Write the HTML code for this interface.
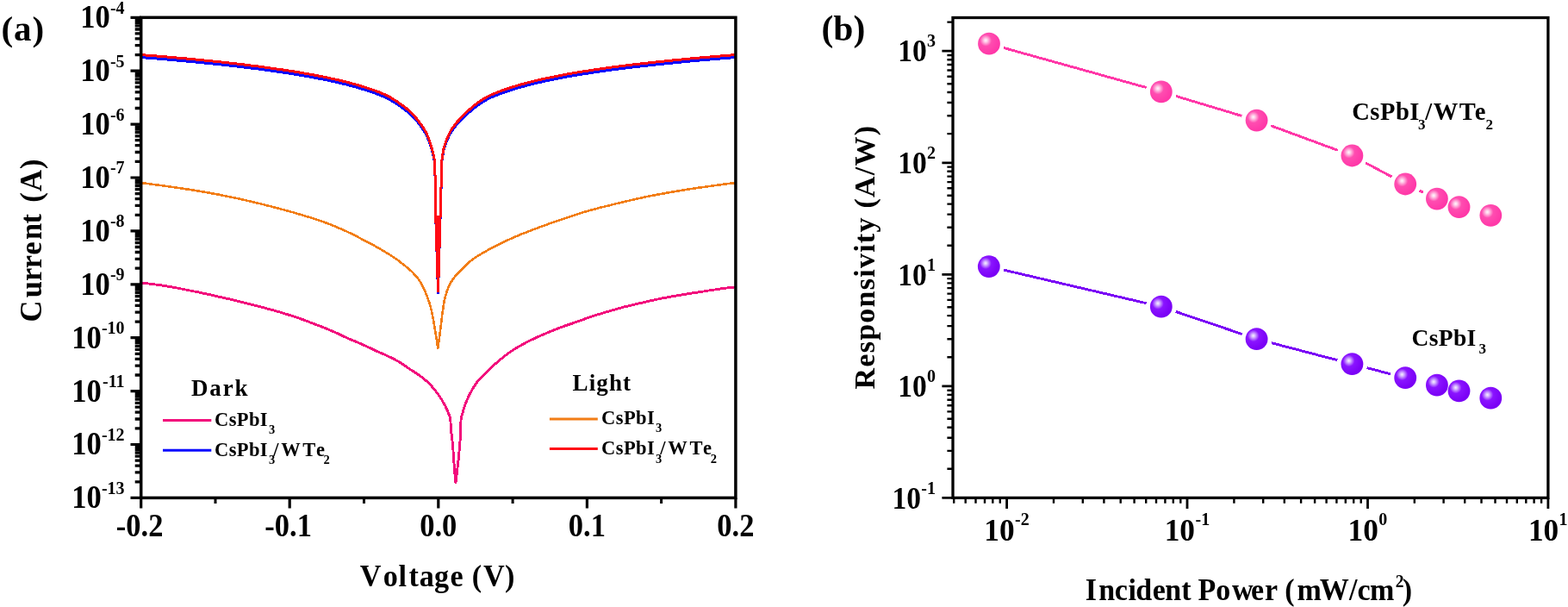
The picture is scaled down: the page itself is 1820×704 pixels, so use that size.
<!DOCTYPE html>
<html lang="en"><head><meta charset="utf-8"><title>Figure</title>
<style>html,body{margin:0;padding:0;background:#fff;}svg{display:block;}</style></head>
<body>
<svg width="1820" height="704" viewBox="0 0 1820 704" font-family='"Liberation Serif", "DejaVu Serif", serif' font-weight="bold" fill="#000">
<defs>
<radialGradient id="gp" cx="0.36" cy="0.36" r="0.62" fx="0.35" fy="0.35"><stop offset="0" stop-color="#fff6fb"/><stop offset="0.12" stop-color="#ffd0ea"/><stop offset="0.42" stop-color="#ff4db0"/><stop offset="1" stop-color="#ff38a8"/></radialGradient>
<radialGradient id="gv" cx="0.36" cy="0.36" r="0.62" fx="0.35" fy="0.35"><stop offset="0" stop-color="#f6eeff"/><stop offset="0.12" stop-color="#d9bcff"/><stop offset="0.42" stop-color="#8a14ff"/><stop offset="1" stop-color="#7a00f5"/></radialGradient>
</defs>
<rect width="1820" height="704" fill="#fff"/>
<clipPath id="ca"><rect x="163.7" y="20.3" width="690.2" height="557.1"/></clipPath>
<g clip-path="url(#ca)" fill="none" stroke-linejoin="round" stroke-linecap="butt" shape-rendering="crispEdges">
<path d="M163.7,328.0 L166.7,328.3 L169.7,328.7 L172.8,329.0 L175.8,329.4 L178.8,329.8 L181.8,330.2 L184.8,330.6 L187.8,331.0 L190.9,331.5 L193.9,332.0 L196.9,332.4 L199.9,333.0 L202.9,333.5 L205.9,334.1 L209.0,334.7 L212.0,335.3 L215.0,335.9 L218.0,336.5 L221.0,337.1 L224.0,337.7 L227.1,338.3 L230.1,338.9 L233.1,339.5 L236.1,340.2 L239.1,340.8 L242.1,341.5 L245.2,342.1 L248.2,342.8 L251.2,343.5 L254.2,344.2 L257.2,344.9 L260.2,345.6 L263.3,346.3 L266.3,346.9 L269.3,347.6 L272.3,348.4 L275.3,349.1 L278.3,349.8 L281.4,350.6 L284.4,351.4 L287.4,352.1 L290.4,352.9 L293.4,353.7 L296.4,354.4 L299.5,355.2 L302.5,355.9 L305.5,356.7 L308.5,357.5 L311.5,358.3 L314.5,359.1 L317.6,359.9 L320.6,360.8 L323.6,361.7 L326.6,362.6 L329.6,363.5 L332.6,364.4 L335.7,365.4 L338.7,366.3 L341.7,367.3 L344.7,368.3 L347.7,369.4 L350.7,370.4 L353.8,371.5 L356.8,372.6 L359.8,373.8 L362.8,374.9 L365.8,376.1 L368.8,377.3 L371.9,378.4 L374.9,379.6 L377.9,380.8 L380.9,382.1 L383.9,383.3 L386.9,384.6 L390.0,385.9 L393.0,387.3 L396.0,388.7 L399.0,390.2 L402.0,391.6 L405.0,392.9 L408.1,394.2 L411.1,395.4 L414.1,396.7 L417.1,398.0 L420.1,399.3 L423.1,400.7 L426.2,402.1 L429.2,403.5 L432.2,404.9 L435.2,406.3 L438.2,407.7 L441.2,409.1 L444.3,410.4 L447.3,411.7 L450.3,413.1 L453.3,414.5 L456.3,415.9 L459.3,417.5 L462.4,419.2 L465.4,421.1 L468.4,423.1 L471.4,425.1 L474.4,427.2 L477.4,429.2 L480.5,431.2 L483.5,433.1 L486.5,435.1 L489.5,437.3 L492.5,439.7 L495.5,442.4 L498.6,445.4 L501.6,448.6 L504.6,452.2 L507.6,456.0 L510.6,460.2 L513.6,465.1 L516.7,470.6 L519.7,477.1 L522.7,484.8 L523.6,499.5 L525.5,515.5 L526.6,531.4 L527.7,547.3 L528.9,559.8 L530.5,547.3 L532.3,531.4 L534.1,510.9 L534.5,497.3 L535.2,484.8 L537.9,475.6 L540.6,467.6 L543.2,461.3 L545.9,455.9 L548.6,451.1 L551.3,446.8 L554.0,442.9 L556.6,439.7 L559.3,436.9 L562.0,434.3 L564.7,431.8 L567.4,429.3 L570.0,426.7 L572.7,424.1 L575.4,421.6 L578.1,419.2 L580.8,417.0 L583.5,414.8 L586.1,412.7 L588.8,410.7 L591.5,408.7 L594.2,406.9 L596.9,405.1 L599.5,403.5 L602.2,401.9 L604.9,400.4 L607.6,398.9 L610.3,397.5 L612.9,396.1 L615.6,394.8 L618.3,393.5 L621.0,392.2 L623.7,391.0 L626.3,389.8 L629.0,388.6 L631.7,387.5 L634.4,386.4 L637.1,385.2 L639.7,384.1 L642.4,383.0 L645.1,382.0 L647.8,380.9 L650.5,379.9 L653.1,378.9 L655.8,377.9 L658.5,377.0 L661.2,376.1 L663.9,375.2 L666.6,374.3 L669.2,373.3 L671.9,372.4 L674.6,371.4 L677.3,370.5 L680.0,369.5 L682.6,368.5 L685.3,367.6 L688.0,366.7 L690.7,365.8 L693.4,365.0 L696.0,364.2 L698.7,363.4 L701.4,362.6 L704.1,361.8 L706.8,361.1 L709.4,360.3 L712.1,359.5 L714.8,358.7 L717.5,358.0 L720.2,357.2 L722.8,356.5 L725.5,355.7 L728.2,355.1 L730.9,354.4 L733.6,353.8 L736.3,353.1 L738.9,352.5 L741.6,351.9 L744.3,351.3 L747.0,350.7 L749.7,350.0 L752.3,349.4 L755.0,348.8 L757.7,348.2 L760.4,347.7 L763.1,347.1 L765.7,346.6 L768.4,346.0 L771.1,345.5 L773.8,345.0 L776.5,344.5 L779.1,344.0 L781.8,343.5 L784.5,343.1 L787.2,342.6 L789.9,342.2 L792.5,341.7 L795.2,341.3 L797.9,340.8 L800.6,340.4 L803.3,340.0 L805.9,339.6 L808.6,339.2 L811.3,338.8 L814.0,338.4 L816.7,338.0 L819.4,337.6 L822.0,337.1 L824.7,336.7 L827.4,336.3 L830.1,335.9 L832.8,335.5 L835.4,335.1 L838.1,334.7 L840.8,334.4 L843.5,334.0 L846.2,333.7 L848.8,333.4 L851.5,333.1 L854.2,332.8" stroke="#f20c7c" stroke-width="2.9"/>
<path d="M163.6,212.1 L166.1,212.4 L168.6,212.7 L171.0,213.0 L173.5,213.3 L176.0,213.6 L178.5,214.0 L181.0,214.3 L183.4,214.6 L185.9,214.9 L188.4,215.3 L190.9,215.6 L193.4,216.0 L195.8,216.3 L198.3,216.7 L200.8,217.0 L203.3,217.4 L205.8,217.8 L208.2,218.1 L210.7,218.5 L213.2,218.9 L215.7,219.3 L218.2,219.6 L220.6,220.0 L223.1,220.4 L225.6,220.8 L228.1,221.2 L230.6,221.6 L233.0,222.0 L235.5,222.5 L238.0,222.9 L240.5,223.3 L243.0,223.7 L245.4,224.2 L247.9,224.6 L250.4,225.1 L252.9,225.5 L255.4,226.0 L257.8,226.5 L260.3,227.0 L262.8,227.5 L265.3,228.0 L267.8,228.5 L270.2,229.0 L272.7,229.5 L275.2,230.1 L277.7,230.6 L280.2,231.2 L282.6,231.7 L285.1,232.3 L287.6,232.9 L290.1,233.4 L292.6,234.0 L295.0,234.6 L297.5,235.2 L300.0,235.8 L302.5,236.4 L305.0,237.0 L307.4,237.7 L309.9,238.3 L312.4,238.9 L314.9,239.5 L317.4,240.2 L319.8,240.8 L322.3,241.5 L324.8,242.1 L327.3,242.8 L329.8,243.5 L332.2,244.1 L334.7,244.8 L337.2,245.5 L339.7,246.2 L342.1,246.9 L344.6,247.6 L347.1,248.4 L349.6,249.1 L352.1,249.8 L354.5,250.6 L357.0,251.3 L359.5,252.1 L362.0,252.8 L364.5,253.6 L366.9,254.4 L369.4,255.2 L371.9,256.1 L374.4,257.0 L376.9,257.9 L379.3,258.8 L381.8,259.7 L384.3,260.7 L386.8,261.7 L389.3,262.7 L391.7,263.8 L394.2,264.8 L396.7,265.9 L399.2,267.0 L401.7,268.1 L404.1,269.3 L406.6,270.5 L409.1,271.7 L411.6,273.0 L414.1,274.2 L416.5,275.5 L419.0,276.8 L421.5,278.1 L424.0,279.4 L426.5,280.7 L428.9,282.0 L431.4,283.3 L433.9,284.6 L436.4,286.0 L438.9,287.4 L441.3,288.8 L443.8,290.2 L446.3,291.7 L448.8,293.3 L451.3,294.8 L453.7,296.4 L456.2,298.0 L458.7,299.7 L461.2,301.4 L463.7,303.2 L466.1,305.1 L468.6,307.0 L471.1,309.1 L473.6,311.1 L476.1,313.3 L478.5,315.6 L481.0,318.2 L483.5,321.0 L486.0,324.2 L488.5,328.1 L490.9,332.7 L493.4,337.9 L495.9,343.9 L498.4,351.2 L500.9,360.2 L503.3,372.6 L505.8,387.4 L508.3,404.0 L510.8,385.3 L513.3,364.6 L515.8,347.8 L518.3,339.0 L520.7,332.6 L523.2,327.8 L525.7,323.9 L528.2,320.6 L530.7,317.8 L533.2,315.2 L535.7,312.6 L538.2,310.1 L540.7,307.7 L543.1,305.4 L545.6,303.2 L548.1,301.3 L550.6,299.4 L553.1,297.7 L555.6,296.2 L558.1,294.7 L560.6,293.3 L563.0,291.9 L565.5,290.5 L568.0,289.2 L570.5,287.9 L573.0,286.5 L575.5,285.2 L578.0,284.0 L580.5,282.7 L583.0,281.5 L585.4,280.3 L587.9,279.1 L590.4,278.0 L592.9,276.9 L595.4,275.7 L597.9,274.7 L600.4,273.6 L602.9,272.6 L605.4,271.5 L607.8,270.5 L610.3,269.6 L612.8,268.6 L615.3,267.6 L617.8,266.7 L620.3,265.7 L622.8,264.8 L625.3,263.9 L627.7,263.0 L630.2,262.0 L632.7,261.2 L635.2,260.3 L637.7,259.4 L640.2,258.5 L642.7,257.6 L645.2,256.8 L647.7,255.9 L650.1,255.1 L652.6,254.3 L655.1,253.4 L657.6,252.6 L660.1,251.8 L662.6,250.9 L665.1,250.1 L667.6,249.3 L670.1,248.5 L672.5,247.7 L675.0,246.9 L677.5,246.1 L680.0,245.4 L682.5,244.7 L685.0,243.9 L687.5,243.3 L690.0,242.6 L692.4,241.9 L694.9,241.3 L697.4,240.6 L699.9,240.0 L702.4,239.4 L704.9,238.8 L707.4,238.2 L709.9,237.5 L712.4,236.9 L714.8,236.3 L717.3,235.7 L719.8,235.1 L722.3,234.5 L724.8,233.9 L727.3,233.3 L729.8,232.8 L732.3,232.2 L734.8,231.6 L737.2,231.0 L739.7,230.5 L742.2,229.9 L744.7,229.4 L747.2,228.9 L749.7,228.3 L752.2,227.8 L754.7,227.3 L757.1,226.8 L759.6,226.4 L762.1,225.9 L764.6,225.4 L767.1,225.0 L769.6,224.5 L772.1,224.1 L774.6,223.6 L777.1,223.2 L779.5,222.8 L782.0,222.3 L784.5,221.9 L787.0,221.5 L789.5,221.1 L792.0,220.7 L794.5,220.3 L797.0,219.9 L799.5,219.5 L801.9,219.1 L804.4,218.8 L806.9,218.4 L809.4,218.0 L811.9,217.6 L814.4,217.3 L816.9,216.9 L819.4,216.6 L821.8,216.2 L824.3,215.9 L826.8,215.5 L829.3,215.2 L831.8,214.8 L834.3,214.5 L836.8,214.2 L839.3,213.8 L841.8,213.5 L844.2,213.2 L846.7,212.9 L849.2,212.6 L851.7,212.3 L854.2,212.0" stroke="#f27d16" stroke-width="2.6"/>
<path d="M163.7,66.6 L170.5,67.1 L177.2,67.6 L183.7,68.2 L190.1,68.7 L196.4,69.2 L202.6,69.8 L208.6,70.3 L214.5,70.8 L220.3,71.4 L226.0,71.9 L231.6,72.5 L237.0,73.0 L242.4,73.5 L247.6,74.1 L252.8,74.6 L257.8,75.1 L262.8,75.7 L267.6,76.2 L272.4,76.7 L277.1,77.3 L281.6,77.8 L286.1,78.3 L290.5,78.9 L294.8,79.4 L299.0,79.9 L303.1,80.5 L307.2,81.0 L311.2,81.6 L315.1,82.1 L318.9,82.6 L322.6,83.2 L326.3,83.7 L329.9,84.2 L333.4,84.8 L336.9,85.3 L340.3,85.8 L343.6,86.4 L346.9,86.9 L350.0,87.4 L353.2,88.0 L356.2,88.5 L359.3,89.0 L362.2,89.6 L365.1,90.1 L367.9,90.7 L370.7,91.2 L373.4,91.7 L376.1,92.3 L378.7,92.8 L381.3,93.3 L383.8,93.9 L386.2,94.4 L388.7,94.9 L391.0,95.5 L393.4,96.0 L395.6,96.5 L397.9,97.1 L400.0,97.6 L402.2,98.1 L404.3,98.7 L406.4,99.2 L408.4,99.8 L410.4,100.3 L412.3,100.8 L414.2,101.4 L416.1,101.9 L417.9,102.4 L419.7,103.0 L421.4,103.5 L423.2,104.0 L424.8,104.6 L426.5,105.1 L428.1,105.6 L429.7,106.2 L431.3,106.7 L432.8,107.2 L434.3,107.8 L435.8,108.3 L437.2,108.8 L438.6,109.4 L440.0,109.9 L441.4,110.5 L442.7,111.0 L444.0,111.5 L445.3,112.1 L446.5,112.6 L447.7,113.1 L449.0,113.7 L450.1,114.2 L452.3,115.5 L454.5,116.8 L456.6,118.1 L458.6,119.4 L460.6,120.7 L462.5,122.0 L464.4,123.2 L466.2,124.5 L468.0,125.8 L469.7,127.0 L471.3,128.3 L472.8,129.5 L474.3,130.8 L475.7,132.1 L477.0,133.3 L478.3,134.6 L479.6,135.8 L480.8,137.1 L482.0,138.4 L483.1,139.6 L484.2,140.9 L485.2,142.1 L486.1,143.4 L487.1,144.7 L488.0,145.9 L488.9,147.2 L489.8,148.4 L490.7,149.7 L491.6,151.0 L492.4,152.2 L493.2,153.5 L493.9,154.7 L494.6,156.0 L495.2,157.3 L495.8,158.5 L496.3,159.8 L496.9,161.0 L497.4,162.3 L497.9,163.6 L498.3,164.8 L498.8,166.1 L499.2,167.3 L499.7,168.6 L500.1,169.9 L500.5,171.1 L500.8,172.4 L501.2,173.6 L501.6,174.9 L501.9,176.2 L502.3,177.4 L502.6,178.7 L502.9,179.9 L503.1,181.2 L503.4,182.5 L503.6,183.7 L503.9,185.0 L504.1,186.2 L504.2,187.5 L504.4,188.8 L505.5,216.2 L505.7,250.6 L508.5,339.8 L511.9,223.6 L512.7,188.8 L512.8,187.5 L513.0,186.2 L513.2,185.0 L513.4,183.7 L513.5,182.5 L513.7,181.2 L513.9,179.9 L514.2,178.7 L514.4,177.4 L514.6,176.2 L514.9,174.9 L515.1,173.6 L515.5,172.4 L515.8,171.1 L516.2,169.9 L516.7,168.6 L517.1,167.3 L517.6,166.1 L518.1,164.8 L518.6,163.6 L519.2,162.3 L519.7,161.0 L520.2,159.8 L520.8,158.5 L521.4,157.3 L522.0,156.0 L522.7,154.7 L523.4,153.5 L524.2,152.2 L525.1,151.0 L526.0,149.7 L527.0,148.4 L528.0,147.2 L529.0,145.9 L530.0,144.7 L531.1,143.4 L532.3,142.1 L533.4,140.9 L534.6,139.6 L535.9,138.4 L537.1,137.1 L538.4,135.8 L539.7,134.6 L541.1,133.3 L542.5,132.1 L543.9,130.8 L545.4,129.5 L546.9,128.3 L548.4,127.0 L550.0,125.8 L551.6,124.5 L553.3,123.2 L555.0,122.0 L556.8,120.7 L558.7,119.4 L560.7,118.1 L562.9,116.8 L565.1,115.5 L567.5,114.2 L568.6,113.7 L569.9,113.1 L571.1,112.6 L572.3,112.1 L573.6,111.5 L574.9,111.0 L576.2,110.5 L577.6,109.9 L579.0,109.4 L580.4,108.8 L581.8,108.3 L583.3,107.8 L584.8,107.2 L586.3,106.7 L587.9,106.2 L589.5,105.6 L591.1,105.1 L592.8,104.6 L594.4,104.0 L596.2,103.5 L597.9,103.0 L599.7,102.4 L601.5,101.9 L603.4,101.4 L605.3,100.8 L607.2,100.3 L609.2,99.8 L611.2,99.2 L613.3,98.7 L615.4,98.1 L617.6,97.6 L619.7,97.1 L622.0,96.5 L624.2,96.0 L626.6,95.5 L628.9,94.9 L631.4,94.4 L633.8,93.9 L636.3,93.3 L638.9,92.8 L641.5,92.3 L644.2,91.7 L646.9,91.2 L649.7,90.7 L652.5,90.1 L655.4,89.6 L658.3,89.0 L661.4,88.5 L664.4,88.0 L667.6,87.4 L670.7,86.9 L674.0,86.4 L677.3,85.8 L680.7,85.3 L684.2,84.8 L687.7,84.2 L691.3,83.7 L695.0,83.2 L698.7,82.6 L702.5,82.1 L706.4,81.6 L710.4,81.0 L714.5,80.5 L718.6,79.9 L722.8,79.4 L727.1,78.9 L731.5,78.3 L736.0,77.8 L740.5,77.3 L745.2,76.7 L750.0,76.2 L754.8,75.7 L759.8,75.1 L764.8,74.6 L770.0,74.1 L775.2,73.5 L780.6,73.0 L786.0,72.5 L791.6,71.9 L797.3,71.4 L803.1,70.8 L809.0,70.3 L815.0,69.8 L821.2,69.2 L827.5,68.7 L833.9,68.2 L840.4,67.6 L847.1,67.1 L853.9,66.6" stroke="#0a0aff" stroke-width="3.0"/>
<path d="M163.7,63.6 L170.5,64.1 L177.2,64.6 L183.7,65.2 L190.1,65.7 L196.4,66.2 L202.6,66.8 L208.6,67.3 L214.5,67.8 L220.3,68.4 L226.0,68.9 L231.6,69.5 L237.0,70.0 L242.4,70.5 L247.6,71.1 L252.8,71.6 L257.8,72.1 L262.8,72.7 L267.6,73.2 L272.4,73.7 L277.1,74.3 L281.6,74.8 L286.1,75.3 L290.5,75.9 L294.8,76.4 L299.0,76.9 L303.1,77.5 L307.2,78.0 L311.2,78.6 L315.1,79.1 L318.9,79.6 L322.6,80.2 L326.3,80.7 L329.9,81.2 L333.4,81.8 L336.9,82.3 L340.3,82.8 L343.6,83.4 L346.9,83.9 L350.0,84.4 L353.2,85.0 L356.2,85.5 L359.3,86.0 L362.2,86.6 L365.1,87.1 L367.9,87.7 L370.7,88.2 L373.4,88.7 L376.1,89.3 L378.7,89.8 L381.3,90.3 L383.8,90.9 L386.2,91.4 L388.7,91.9 L391.0,92.5 L393.4,93.0 L395.6,93.5 L397.9,94.1 L400.0,94.6 L402.2,95.1 L404.3,95.7 L406.4,96.2 L408.4,96.8 L410.4,97.3 L412.3,97.8 L414.2,98.4 L416.1,98.9 L417.9,99.4 L419.7,100.0 L421.4,100.5 L423.2,101.0 L424.8,101.6 L426.5,102.1 L428.1,102.6 L429.7,103.2 L431.3,103.7 L432.8,104.2 L434.3,104.8 L435.8,105.3 L437.2,105.8 L438.6,106.4 L440.0,106.9 L441.4,107.5 L442.7,108.0 L444.0,108.5 L445.3,109.1 L446.5,109.6 L447.7,110.1 L449.0,110.7 L450.1,111.2 L452.3,112.5 L454.5,113.8 L456.6,115.1 L458.6,116.4 L460.6,117.7 L462.5,119.0 L464.4,120.3 L466.2,121.5 L468.0,122.8 L469.7,124.1 L471.3,125.4 L472.8,126.7 L474.3,128.0 L475.7,129.3 L477.0,130.6 L478.3,131.9 L479.6,133.2 L480.8,134.5 L482.0,135.8 L483.1,137.1 L484.2,138.4 L485.2,139.7 L486.1,140.9 L487.1,142.2 L488.0,143.5 L488.9,144.8 L489.8,146.1 L490.7,147.4 L491.6,148.7 L492.4,150.0 L493.2,151.3 L493.9,152.6 L494.6,153.9 L495.2,155.2 L495.8,156.5 L496.3,157.8 L496.9,159.0 L497.4,160.3 L497.9,161.6 L498.3,162.9 L498.8,164.2 L499.2,165.5 L499.7,166.8 L500.1,168.1 L500.5,169.4 L500.8,170.7 L501.2,172.0 L501.6,173.3 L501.9,174.6 L502.3,175.9 L502.6,177.2 L502.9,178.4 L503.1,179.7 L503.4,181.0 L503.6,182.3 L503.9,183.6 L504.1,184.9 L504.2,186.2 L504.4,187.5 L505.5,215.0 L505.7,249.4 L508.5,338.0 L511.9,222.4 L512.7,187.5 L512.8,186.2 L513.0,184.9 L513.2,183.6 L513.4,182.3 L513.5,181.0 L513.7,179.7 L513.9,178.4 L514.2,177.2 L514.4,175.9 L514.6,174.6 L514.9,173.3 L515.1,172.0 L515.5,170.7 L515.8,169.4 L516.2,168.1 L516.7,166.8 L517.1,165.5 L517.6,164.2 L518.1,162.9 L518.6,161.6 L519.2,160.3 L519.7,159.0 L520.2,157.8 L520.8,156.5 L521.4,155.2 L522.0,153.9 L522.7,152.6 L523.4,151.3 L524.2,150.0 L525.1,148.7 L526.0,147.4 L527.0,146.1 L528.0,144.8 L529.0,143.5 L530.0,142.2 L531.1,140.9 L532.3,139.7 L533.4,138.4 L534.6,137.1 L535.9,135.8 L537.1,134.5 L538.4,133.2 L539.7,131.9 L541.1,130.6 L542.5,129.3 L543.9,128.0 L545.4,126.7 L546.9,125.4 L548.4,124.1 L550.0,122.8 L551.6,121.5 L553.3,120.3 L555.0,119.0 L556.8,117.7 L558.7,116.4 L560.7,115.1 L562.9,113.8 L565.1,112.5 L567.5,111.2 L568.6,110.7 L569.9,110.1 L571.1,109.6 L572.3,109.1 L573.6,108.5 L574.9,108.0 L576.2,107.5 L577.6,106.9 L579.0,106.4 L580.4,105.8 L581.8,105.3 L583.3,104.8 L584.8,104.2 L586.3,103.7 L587.9,103.2 L589.5,102.6 L591.1,102.1 L592.8,101.6 L594.4,101.0 L596.2,100.5 L597.9,100.0 L599.7,99.4 L601.5,98.9 L603.4,98.4 L605.3,97.8 L607.2,97.3 L609.2,96.8 L611.2,96.2 L613.3,95.7 L615.4,95.1 L617.6,94.6 L619.7,94.1 L622.0,93.5 L624.2,93.0 L626.6,92.5 L628.9,91.9 L631.4,91.4 L633.8,90.9 L636.3,90.3 L638.9,89.8 L641.5,89.3 L644.2,88.7 L646.9,88.2 L649.7,87.7 L652.5,87.1 L655.4,86.6 L658.3,86.0 L661.4,85.5 L664.4,85.0 L667.6,84.4 L670.7,83.9 L674.0,83.4 L677.3,82.8 L680.7,82.3 L684.2,81.8 L687.7,81.2 L691.3,80.7 L695.0,80.2 L698.7,79.6 L702.5,79.1 L706.4,78.6 L710.4,78.0 L714.5,77.5 L718.6,76.9 L722.8,76.4 L727.1,75.9 L731.5,75.3 L736.0,74.8 L740.5,74.3 L745.2,73.7 L750.0,73.2 L754.8,72.7 L759.8,72.1 L764.8,71.6 L770.0,71.1 L775.2,70.5 L780.6,70.0 L786.0,69.5 L791.6,68.9 L797.3,68.4 L803.1,67.8 L809.0,67.3 L815.0,66.8 L821.2,66.2 L827.5,65.7 L833.9,65.2 L840.4,64.6 L847.1,64.1 L853.9,63.6" stroke="#ff0a14" stroke-width="3.0"/>
<path d="M505.7,249.4 L508.5,338 L511.9,222.4 L510.6,250.5 L507.0,250.5 Z" fill="#ff0a14" stroke="#ff0a14" stroke-width="1"/>
</g>
<rect x="163.7" y="20.3" width="690.2" height="557.1" fill="none" stroke="#000" stroke-width="3.5"/>
<path d="M151.5,20.3H163.7 M151.5,82.2H163.7 M151.5,144.1H163.7 M151.5,206.0H163.7 M151.5,267.9H163.7 M151.5,329.8H163.7 M151.5,391.7H163.7 M151.5,453.6H163.7 M151.5,515.5H163.7 M151.5,577.4H163.7" stroke="#000" stroke-width="3.2" fill="none"/>
<path d="M156.7,63.6H163.7 M156.7,52.7H163.7 M156.7,44.9H163.7 M156.7,38.9H163.7 M156.7,34.0H163.7 M156.7,29.9H163.7 M156.7,26.3H163.7 M156.7,23.1H163.7 M156.7,125.5H163.7 M156.7,114.6H163.7 M156.7,106.8H163.7 M156.7,100.8H163.7 M156.7,95.9H163.7 M156.7,91.8H163.7 M156.7,88.2H163.7 M156.7,85.0H163.7 M156.7,187.4H163.7 M156.7,176.5H163.7 M156.7,168.7H163.7 M156.7,162.7H163.7 M156.7,157.8H163.7 M156.7,153.7H163.7 M156.7,150.1H163.7 M156.7,146.9H163.7 M156.7,249.3H163.7 M156.7,238.4H163.7 M156.7,230.6H163.7 M156.7,224.6H163.7 M156.7,219.7H163.7 M156.7,215.6H163.7 M156.7,212.0H163.7 M156.7,208.8H163.7 M156.7,311.2H163.7 M156.7,300.3H163.7 M156.7,292.5H163.7 M156.7,286.5H163.7 M156.7,281.6H163.7 M156.7,277.5H163.7 M156.7,273.9H163.7 M156.7,270.7H163.7 M156.7,373.1H163.7 M156.7,362.2H163.7 M156.7,354.4H163.7 M156.7,348.4H163.7 M156.7,343.5H163.7 M156.7,339.4H163.7 M156.7,335.8H163.7 M156.7,332.6H163.7 M156.7,435.0H163.7 M156.7,424.1H163.7 M156.7,416.3H163.7 M156.7,410.3H163.7 M156.7,405.4H163.7 M156.7,401.3H163.7 M156.7,397.7H163.7 M156.7,394.5H163.7 M156.7,496.9H163.7 M156.7,486.0H163.7 M156.7,478.2H163.7 M156.7,472.2H163.7 M156.7,467.3H163.7 M156.7,463.2H163.7 M156.7,459.6H163.7 M156.7,456.4H163.7 M156.7,558.8H163.7 M156.7,547.9H163.7 M156.7,540.1H163.7 M156.7,534.1H163.7 M156.7,529.2H163.7 M156.7,525.1H163.7 M156.7,521.5H163.7 M156.7,518.3H163.7" stroke="#000" stroke-width="3.3" fill="none"/>
<path d="M163.7,577.4V589.6 M336.2,577.4V589.6 M508.8,577.4V589.6 M681.4,577.4V589.6 M853.9,577.4V589.6" stroke="#000" stroke-width="3.2" fill="none"/>
<path d="M250.0,577.4V584.0 M422.5,577.4V584.0 M595.1,577.4V584.0 M767.6,577.4V584.0" stroke="#000" stroke-width="3.0" fill="none"/>
<text x="144.6" y="15.7" font-size="20" text-anchor="end">-4</text>
<text transform="translate(127.7,32.2) scale(1,1.09)" font-size="34.5" text-anchor="end">10</text>
<text x="144.6" y="77.6" font-size="20" text-anchor="end">-5</text>
<text transform="translate(127.7,94.1) scale(1,1.09)" font-size="34.5" text-anchor="end">10</text>
<text x="144.6" y="139.5" font-size="20" text-anchor="end">-6</text>
<text transform="translate(127.7,156.0) scale(1,1.09)" font-size="34.5" text-anchor="end">10</text>
<text x="144.6" y="201.4" font-size="20" text-anchor="end">-7</text>
<text transform="translate(127.7,217.9) scale(1,1.09)" font-size="34.5" text-anchor="end">10</text>
<text x="144.6" y="263.3" font-size="20" text-anchor="end">-8</text>
<text transform="translate(127.7,279.8) scale(1,1.09)" font-size="34.5" text-anchor="end">10</text>
<text x="144.6" y="325.2" font-size="20" text-anchor="end">-9</text>
<text transform="translate(127.7,341.7) scale(1,1.09)" font-size="34.5" text-anchor="end">10</text>
<text x="144.6" y="387.1" font-size="20" text-anchor="end">-10</text>
<text transform="translate(117.7,403.6) scale(1,1.09)" font-size="34.5" text-anchor="end">10</text>
<text x="144.6" y="449.0" font-size="20" text-anchor="end">-11</text>
<text transform="translate(117.7,465.5) scale(1,1.09)" font-size="34.5" text-anchor="end">10</text>
<text x="144.6" y="510.9" font-size="20" text-anchor="end">-12</text>
<text transform="translate(117.7,527.4) scale(1,1.09)" font-size="34.5" text-anchor="end">10</text>
<text x="144.6" y="572.8" font-size="20" text-anchor="end">-13</text>
<text transform="translate(117.7,589.3) scale(1,1.09)" font-size="34.5" text-anchor="end">10</text>
<text transform="translate(162.1,622.1) scale(1,1.09)" font-size="34.5" text-anchor="middle">-0.2</text>
<text transform="translate(334.6,622.1) scale(1,1.09)" font-size="34.5" text-anchor="middle">-0.1</text>
<text transform="translate(508.8,622.1) scale(1,1.09)" font-size="34.5" text-anchor="middle">0.0</text>
<text transform="translate(681.4,622.1) scale(1,1.09)" font-size="34.5" text-anchor="middle">0.1</text>
<text transform="translate(853.9,622.1) scale(1,1.09)" font-size="34.5" text-anchor="middle">0.2</text>
<text x="1.6" y="46.9" font-size="41" textLength="49.5" lengthAdjust="spacing">(a)</text>
<text transform="translate(0,679.6) scale(1,1.04)" font-size="34.2"><tspan x="417.7 444.7 462.4 474.6 486.7 503.9 522.4 537.6 547.8 561.1 586.1" y="0">Voltage (V)</tspan></text>
<text transform="translate(47.9,0) rotate(-90) scale(1,1.04)" font-size="34.5"><tspan x="-373.6 -345.2 -326.1 -311.2 -295.8 -277.9 -259.6 -248.1 -234.8 -221.9 -196.1" y="0">Current (A)</tspan></text>
<text x="222.0" y="459.1" font-size="27" textLength="65.5" lengthAdjust="spacing">Dark</text>
<text x="664.6" y="452.9" font-size="27" textLength="67.5" lengthAdjust="spacing">Light</text>
<path d="M189,487.4H245.3" stroke="#f20c7c" stroke-width="3"/>
<path d="M189,522.2H245.3" stroke="#0a0aff" stroke-width="3"/>
<path d="M637.9,485.9H693.8" stroke="#f27d16" stroke-width="3"/>
<path d="M637.9,520.6H693.8" stroke="#ff0a14" stroke-width="3"/>
<text font-size="22.5"><tspan x="249.0" y="493.5" textLength="61.6" lengthAdjust="spacing">CsPbI</tspan><tspan x="312.0" y="502.7" font-size="14.5">3</tspan></text>
<text font-size="22.5"><tspan x="249.0" y="528.9" textLength="61.6" lengthAdjust="spacing">CsPbI</tspan><tspan x="312.0" y="538.1" font-size="14.5">3</tspan><tspan x="317.2" y="528.9" textLength="59.8" lengthAdjust="spacing">/WTe</tspan><tspan x="375.6" y="538.1" font-size="14.5">2</tspan></text>
<text font-size="22.5"><tspan x="698.1" y="492.0" textLength="61.6" lengthAdjust="spacing">CsPbI</tspan><tspan x="761.1" y="501.2" font-size="14.5">3</tspan></text>
<text font-size="22.5"><tspan x="698.1" y="527.4" textLength="61.6" lengthAdjust="spacing">CsPbI</tspan><tspan x="761.1" y="536.6" font-size="14.5">3</tspan><tspan x="766.3" y="527.4" textLength="59.8" lengthAdjust="spacing">/WTe</tspan><tspan x="824.7" y="536.6" font-size="14.5">2</tspan></text>
<path d="M1165.1,55.5L1330.7,101.6 M1364.9,111.5L1441.5,134.5 M1475.3,145.8L1552.7,174.3 M1585.1,188.9L1615.5,205.1 M1647.3,221.0L1651.8,223.1" stroke="#ff38a8" stroke-width="2.9" fill="none" shape-rendering="crispEdges"/>
<path d="M1165.1,313.1L1330.5,351.7 M1364.7,361.4L1441.7,387.5 M1475.8,397.7L1552.2,417.7 M1586.6,426.7L1614.0,433.7" stroke="#7a00f5" stroke-width="2.9" fill="none" shape-rendering="crispEdges"/>
<circle cx="1148.0" cy="50.7" r="12.9" fill="url(#gp)"/>
<circle cx="1347.8" cy="106.4" r="12.9" fill="url(#gp)"/>
<circle cx="1458.6" cy="139.6" r="12.9" fill="url(#gp)"/>
<circle cx="1569.4" cy="180.5" r="12.9" fill="url(#gp)"/>
<circle cx="1631.2" cy="213.5" r="12.9" fill="url(#gp)"/>
<circle cx="1667.9" cy="230.6" r="12.9" fill="url(#gp)"/>
<circle cx="1693.5" cy="240.2" r="12.9" fill="url(#gp)"/>
<circle cx="1730.3" cy="249.8" r="12.9" fill="url(#gp)"/>
<circle cx="1147.8" cy="309.1" r="12.9" fill="url(#gv)"/>
<circle cx="1347.8" cy="355.7" r="12.9" fill="url(#gv)"/>
<circle cx="1458.6" cy="393.2" r="12.9" fill="url(#gv)"/>
<circle cx="1569.4" cy="422.2" r="12.9" fill="url(#gv)"/>
<circle cx="1631.2" cy="438.2" r="12.9" fill="url(#gv)"/>
<circle cx="1667.9" cy="446.7" r="12.9" fill="url(#gv)"/>
<circle cx="1693.5" cy="453.4" r="12.9" fill="url(#gv)"/>
<circle cx="1730.3" cy="461.7" r="12.9" fill="url(#gv)"/>
<rect x="1106.0" y="20.5" width="690.9000000000001" height="556.9" fill="none" stroke="#000" stroke-width="3.3"/>
<path d="M1093.4,577.4H1106.0 M1093.4,447.9H1106.0 M1093.4,318.3H1106.0 M1093.4,188.8H1106.0 M1093.4,59.2H1106.0" stroke="#000" stroke-width="2.8" fill="none"/>
<path d="M1099.4,543.8H1106.0 M1099.4,522.9H1106.0 M1099.4,507.7H1106.0 M1099.4,495.7H1106.0 M1099.4,485.8H1106.0 M1099.4,477.4H1106.0 M1099.4,470.2H1106.0 M1099.4,463.7H1106.0 M1099.4,457.9H1106.0 M1099.4,452.7H1106.0 M1099.4,414.2H1106.0 M1099.4,393.3H1106.0 M1099.4,378.1H1106.0 M1099.4,366.1H1106.0 M1099.4,356.3H1106.0 M1099.4,347.9H1106.0 M1099.4,340.6H1106.0 M1099.4,334.1H1106.0 M1099.4,328.4H1106.0 M1099.4,323.1H1106.0 M1099.4,284.7H1106.0 M1099.4,263.8H1106.0 M1099.4,248.6H1106.0 M1099.4,236.6H1106.0 M1099.4,226.7H1106.0 M1099.4,218.3H1106.0 M1099.4,211.1H1106.0 M1099.4,204.6H1106.0 M1099.4,198.8H1106.0 M1099.4,193.6H1106.0 M1099.4,155.1H1106.0 M1099.4,134.2H1106.0 M1099.4,119.0H1106.0 M1099.4,107.0H1106.0 M1099.4,97.2H1106.0 M1099.4,88.8H1106.0 M1099.4,81.5H1106.0 M1099.4,75.0H1106.0 M1099.4,69.3H1106.0 M1099.4,64.0H1106.0 M1099.4,25.6H1106.0" stroke="#000" stroke-width="2.4" fill="none"/>
<path d="M1168.6,577.4V590.0 M1378.0,577.4V590.0 M1587.5,577.4V590.0 M1796.9,577.4V590.0" stroke="#000" stroke-width="2.8" fill="none"/>
<path d="M1107.2,577.4V583.8 M1120.7,577.4V583.8 M1132.5,577.4V583.8 M1143.0,577.4V583.8 M1152.3,577.4V583.8 M1160.8,577.4V583.8 M1223.0,577.4V583.8 M1256.8,577.4V583.8 M1281.4,577.4V583.8 M1300.7,577.4V583.8 M1316.6,577.4V583.8 M1330.2,577.4V583.8 M1342.0,577.4V583.8 M1352.4,577.4V583.8 M1361.8,577.4V583.8 M1370.3,577.4V583.8 M1432.4,577.4V583.8 M1466.2,577.4V583.8 M1490.8,577.4V583.8 M1510.1,577.4V583.8 M1526.1,577.4V583.8 M1539.6,577.4V583.8 M1551.4,577.4V583.8 M1561.8,577.4V583.8 M1571.2,577.4V583.8 M1579.7,577.4V583.8 M1641.8,577.4V583.8 M1675.6,577.4V583.8 M1700.2,577.4V583.8 M1719.5,577.4V583.8 M1735.5,577.4V583.8 M1749.0,577.4V583.8 M1760.8,577.4V583.8 M1771.3,577.4V583.8 M1780.6,577.4V583.8 M1789.1,577.4V583.8" stroke="#000" stroke-width="2.4" fill="none"/>
<text x="1086.0" y="572.6" font-size="20" text-anchor="end">-1</text>
<text transform="translate(1069.1,589.6) scale(1,1.09)" font-size="33.5" text-anchor="end">10</text>
<text x="1086.0" y="443.1" font-size="20" text-anchor="end">0</text>
<text transform="translate(1075.8,460.1) scale(1,1.09)" font-size="33.5" text-anchor="end">10</text>
<text x="1086.0" y="313.5" font-size="20" text-anchor="end">1</text>
<text transform="translate(1075.8,330.5) scale(1,1.09)" font-size="33.5" text-anchor="end">10</text>
<text x="1086.0" y="183.9" font-size="20" text-anchor="end">2</text>
<text transform="translate(1075.8,200.9) scale(1,1.09)" font-size="33.5" text-anchor="end">10</text>
<text x="1086.0" y="54.4" font-size="20" text-anchor="end">3</text>
<text transform="translate(1075.8,71.4) scale(1,1.09)" font-size="33.5" text-anchor="end">10</text>
<text transform="translate(1177.6,626.7) scale(1,1.04)" font-size="35.3" text-anchor="end">10</text>
<text x="1178.0" y="608.9" font-size="20">-2</text>
<text transform="translate(1387.0,626.7) scale(1,1.04)" font-size="35.3" text-anchor="end">10</text>
<text x="1387.5" y="608.9" font-size="20">-1</text>
<text transform="translate(1599.8,626.7) scale(1,1.04)" font-size="35.3" text-anchor="end">10</text>
<text x="1600.2" y="608.9" font-size="20">0</text>
<text transform="translate(1809.2,626.7) scale(1,1.04)" font-size="35.3" text-anchor="end">10</text>
<text x="1809.6" y="608.9" font-size="20">1</text>
<text x="953.4" y="46.8" font-size="41.5" textLength="51" lengthAdjust="spacing">(b)</text>
<text transform="translate(1014.5,298.7) rotate(-90)" font-size="34" text-anchor="middle" textLength="305.5" lengthAdjust="spacing">Responsivity (A/W)</text>
<text transform="translate(0,695.6) scale(1,1.07)" font-size="34"><tspan x="1259.7 1275.3 1293.8 1309.5 1318.3 1337.7 1352.2 1371.3 1382.6 1390.5 1411.2 1430.0 1451.9 1468.0 1483.1 1491.2 1505.4 1531.7 1566.0 1575.5 1590.0" y="0">Incident Power (mW/cm</tspan><tspan x="1619.8" y="-13.6" font-size="19.5">2</tspan><tspan x="1627.8" y="0.0">)</tspan></text>
<text font-size="28.5"><tspan x="1569.2" y="138.9" textLength="78.2" lengthAdjust="spacing">CsPbI</tspan><tspan x="1646.0" y="149.8" font-size="17">3</tspan><tspan x="1654.2" y="138.9" textLength="70.2" lengthAdjust="spacing">/WTe</tspan><tspan x="1724.4" y="149.8" font-size="17">2</tspan></text>
<text font-size="27.5"><tspan x="1638.6" y="400.5" textLength="74.6" lengthAdjust="spacing">CsPbI</tspan><tspan x="1716.6" y="410.1" font-size="17">3</tspan></text>
</svg>
</body></html>
